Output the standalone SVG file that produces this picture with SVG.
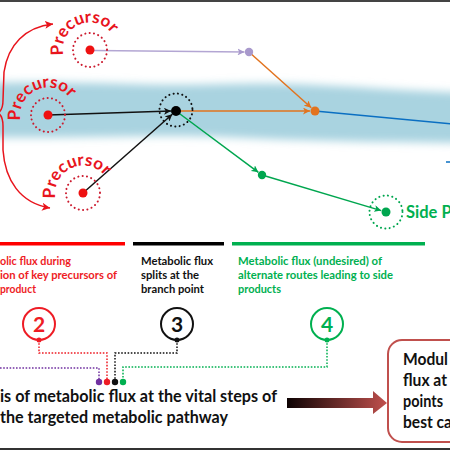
<svg xmlns="http://www.w3.org/2000/svg" width="450" height="450" viewBox="0 0 450 450">
<style>
text{font-family:Lato,"Open Sans","Liberation Sans",sans-serif;font-weight:bold}
.red{fill:#ee1c25}
.grn{fill:#00b050}
.blk{fill:#111}
.pre{font-size:17px;fill:#e8141c}
.sec{font-size:12px}
.main{font-size:17px;fill:#111}
.num{font-size:21px;text-anchor:middle}
.dotc{fill:none;stroke-width:2;stroke-dasharray:0.1 4.3;stroke-linecap:round}
.ln{fill:none;stroke-width:1.5}
.dl{fill:none;stroke-width:1.5;stroke-dasharray:1.6 1.6}
</style>
<defs>
<filter id="blur" x="-10%" y="-50%" width="120%" height="200%"><feGaussianBlur stdDeviation="4"/></filter>
<marker id="aP" viewBox="0 0 8 8" refX="8" refY="4" markerWidth="7" markerHeight="7" markerUnits="userSpaceOnUse" orient="auto"><path d="M0,0 L8,4 L0,8 L2,4 Z" fill="#a899cc"/></marker>
<marker id="aK" viewBox="0 0 8 8" refX="8" refY="4" markerWidth="7" markerHeight="7" markerUnits="userSpaceOnUse" orient="auto"><path d="M0,0 L8,4 L0,8 L2,4 Z" fill="#111"/></marker>
<marker id="aO" viewBox="0 0 8 8" refX="8" refY="4" markerWidth="7" markerHeight="7" markerUnits="userSpaceOnUse" orient="auto"><path d="M0,0 L8,4 L0,8 L2,4 Z" fill="#e2731e"/></marker>
<marker id="aG" viewBox="0 0 8 8" refX="8" refY="4" markerWidth="7" markerHeight="7" markerUnits="userSpaceOnUse" orient="auto"><path d="M0,0 L8,4 L0,8 L2,4 Z" fill="#00a64f"/></marker>
<marker id="aR" viewBox="0 0 8 8" refX="8" refY="4" markerWidth="8" markerHeight="8" markerUnits="userSpaceOnUse" orient="auto-start-reverse"><path d="M0,0 L8,4 L0,8 L2,4 Z" fill="#e8141c"/></marker>
<linearGradient id="gArrow" x1="0" y1="0" x2="1" y2="0"><stop offset="0" stop-color="#0d0303"/><stop offset="1" stop-color="#c0504d"/></linearGradient>
<path id="arc1" d="M63.5,55.2 A27,27 0 0 1 116.1,43"/>
<path id="arc2" d="M20.5,120.3 A28,28 0 0 1 75,107.8"/>
<path id="arc3" d="M55.5,198.3 A28,28 0 0 1 110,185.8"/>
</defs>
<rect x="0" y="0" width="450" height="450" fill="#fff"/>
<rect x="0" y="0" width="450" height="2" fill="#444"/>
<rect x="0" y="448" width="450" height="2" fill="#333"/>

<path d="M-20,83 C80,80 150,87 225,84 C300,81 380,90 470,93 L470,143 C380,142 300,141 225,137 C150,134 80,139 -20,137 Z" fill="#a9d3e0" filter="url(#blur)"/>

<g id="connectors">
<path class="ln" d="M53,24 C25,27 8,45 4,72 L3,100 Q3,110 -2,113 Q3,116 3,126 L3,150 C5,180 20,203 50,208" stroke="#e8141c" marker-start="url(#aR)" marker-end="url(#aR)"/>
<line class="ln" x1="94" y1="50.5" x2="244.5" y2="52" stroke="#b3a6d3" marker-end="url(#aP)"/>
<line class="ln" x1="48" y1="115" x2="171" y2="111" stroke="#111" marker-end="url(#aK)"/>
<line class="ln" x1="83" y1="193" x2="172.3" y2="114.3" stroke="#111" marker-end="url(#aK)"/>
<line class="ln" x1="176" y1="111" x2="310" y2="111" stroke="#e2731e" marker-end="url(#aO)"/>
<line class="ln" x1="249" y1="52" x2="311.3" y2="107.7" stroke="#e2731e" marker-end="url(#aO)"/>
<line class="ln" x1="315" y1="111" x2="452" y2="124" stroke="#0a6fc2"/>
<line class="ln" x1="446" y1="162" x2="450" y2="162" stroke="#0a6fc2"/>
<line class="ln" x1="176" y1="111" x2="258.4" y2="172.3" stroke="#00a64f" marker-end="url(#aG)"/>
<line class="ln" x1="262" y1="175" x2="381.2" y2="210.6" stroke="#00a64f" marker-end="url(#aG)"/>
<polyline class="dl" points="39,340 39,353 107,353 107,382" stroke="#ee1c25"/>
<polyline class="dl" points="177,340 177,353 115,353 115,382" stroke="#111"/>
<polyline class="dl" points="0,368 99,368 99,382" stroke="#7030a0"/>
<polyline class="dl" points="327,340 327,367 123,367 123,382" stroke="#00b050"/>
</g>

<g id="precursor1">
<circle class="dotc" cx="90" cy="50" r="17" stroke="#cc1a2e"/>
<circle cx="90" cy="50" r="4.5" fill="#ee1111"/>
<text class="pre"><textPath href="#arc1">Precursor</textPath></text>
</g>
<g id="precursor2">
<circle class="dotc" cx="48" cy="115" r="17" stroke="#cc1a2e"/>
<circle cx="48" cy="115" r="4.5" fill="#ee1111"/>
<text class="pre"><textPath href="#arc2">Precursor</textPath></text>
</g>
<g id="precursor3">
<circle class="dotc" cx="83" cy="193" r="17" stroke="#cc1a2e"/>
<circle cx="83" cy="193" r="4.5" fill="#ee1111"/>
<text class="pre"><textPath href="#arc3">Precursor</textPath></text>
</g>
<g id="branch">
<circle class="dotc" cx="176" cy="110" r="16.5" stroke="#111"/>
<circle cx="176" cy="111" r="5" fill="#000"/>
</g>
<g id="purple-node"><circle cx="249" cy="52" r="4.2" fill="#a899cc"/></g>
<g id="orange-node"><circle cx="315" cy="111" r="4.5" fill="#e2731e"/></g>
<g id="green-node"><circle cx="262" cy="175" r="4.2" fill="#00a64f"/></g>
<g id="side-product">
<circle class="dotc" cx="386" cy="212" r="16.5" stroke="#00a64f"/>
<circle cx="386" cy="212" r="4.5" fill="#00a64f"/>
<text x="406" y="218" font-size="16.5" class="grn">Side P</text>
</g>

<g id="section2">
<rect x="0" y="242" width="125" height="3.5" fill="#ff0000"/>
<text class="sec red" x="0" y="264.5" textLength="71" lengthAdjust="spacingAndGlyphs">olic flux during</text>
<text class="sec red" x="0" y="278.5" textLength="117" lengthAdjust="spacingAndGlyphs">ion of key precursors of</text>
<text class="sec red" x="0" y="292.5" textLength="36" lengthAdjust="spacingAndGlyphs">product</text>
</g>
<g id="section3">
<rect x="133" y="242" width="91" height="3.5" fill="#000"/>
<text class="sec blk" x="141" y="264.5" textLength="72" lengthAdjust="spacingAndGlyphs">Metabolic flux</text>
<text class="sec blk" x="141" y="278.5" textLength="58" lengthAdjust="spacingAndGlyphs">splits at the</text>
<text class="sec blk" x="141" y="292.5" textLength="63" lengthAdjust="spacingAndGlyphs">branch point</text>
</g>
<g id="section4">
<rect x="232" y="242" width="193" height="3.5" fill="#00b050"/>
<text class="sec grn" x="238" y="264.5" textLength="144" lengthAdjust="spacingAndGlyphs">Metabolic flux (undesired) of</text>
<text class="sec grn" x="238" y="278.5" textLength="155" lengthAdjust="spacingAndGlyphs">alternate routes leading to side</text>
<text class="sec grn" x="238" y="292.5" textLength="43" lengthAdjust="spacingAndGlyphs">products</text>
</g>

<g id="num2">
<circle cx="39" cy="324" r="16" fill="#fff" stroke="#ee1c25" stroke-width="2"/>
<circle cx="39" cy="340" r="2.5" fill="#ee1c25"/>
<text class="num red" x="39" y="331.5">2</text>
</g>
<g id="num3">
<circle cx="177" cy="324" r="16" fill="#fff" stroke="#111" stroke-width="2"/>
<circle cx="177" cy="340" r="2.5" fill="#111"/>
<text class="num blk" x="177" y="331.5">3</text>
</g>
<g id="num4">
<circle cx="327" cy="324" r="16" fill="#fff" stroke="#00b050" stroke-width="2"/>
<circle cx="327" cy="340" r="2.5" fill="#00b050"/>
<text class="num grn" x="327" y="331.5">4</text>
</g>

<g id="dots">
<circle cx="99" cy="382" r="3.2" fill="#7030a0"/>
<circle cx="107" cy="382" r="3.2" fill="#ee1c25"/>
<circle cx="115" cy="382" r="3.2" fill="#111"/>
<circle cx="123" cy="382" r="3.2" fill="#00b050"/>
</g>

<g id="analysis">
<text class="main" x="0" y="401.5" textLength="277" lengthAdjust="spacingAndGlyphs">is of metabolic flux at the vital steps of</text>
<text class="main" x="0" y="423" textLength="228" lengthAdjust="spacingAndGlyphs">the targeted metabolic pathway</text>
</g>
<g id="arrow">
<path d="M287,398 L373,398 L373,391 L387,403 L373,414 L373,408 L287,408 Z" fill="url(#gArrow)"/>
</g>
<g id="modulate">
<rect x="388" y="340" width="90" height="102" rx="14" fill="#fff" stroke="#c0504d" stroke-width="2"/>
<text class="main" x="403" y="365" textLength="45" lengthAdjust="spacingAndGlyphs">Modul</text>
<text class="main" x="403" y="386" textLength="44" lengthAdjust="spacingAndGlyphs">flux at</text>
<text class="main" x="403" y="407" textLength="40" lengthAdjust="spacingAndGlyphs">points</text>
<text class="main" x="403" y="428" textLength="49" lengthAdjust="spacingAndGlyphs">best ca</text>
</g>
</svg>
